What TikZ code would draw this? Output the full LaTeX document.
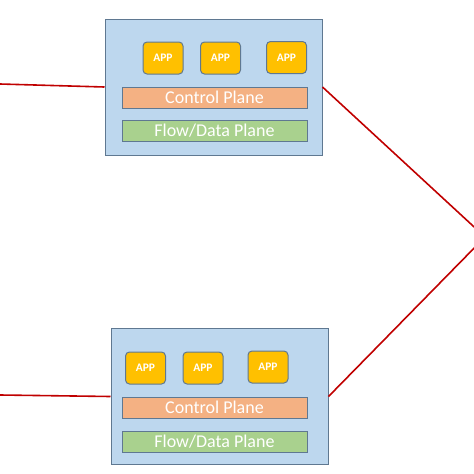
\documentclass[tikz,border=0pt]{standalone}
\usepackage{fontspec}
\setmainfont{Carlito}
\usepackage{xcolor}

\definecolor{fondo}{RGB}{189,215,238}
\definecolor{borde}{RGB}{95,120,145}
\definecolor{naranja}{RGB}{244,177,131}
\definecolor{verde}{RGB}{169,209,142}
\definecolor{amarillo}{RGB}{255,192,0}
\definecolor{rojo}{RGB}{192,0,0}

\tikzset{
  switch/.style={draw=borde, fill=fondo, line width=1pt, minimum width=217pt, minimum height=136pt, inner sep=0pt},
  app/.style={draw=borde, fill=amarillo, rounded corners=4pt, line width=1pt, minimum width=40pt, minimum height=32pt, inner sep=0pt, text=white, font=\fontsize{11.5}{12}\selectfont\bfseries},
  plano/.style={draw=borde, line width=1pt, minimum width=185pt, minimum height=21pt, inner sep=0pt, text=white, font=\fontsize{18}{18}\selectfont},
  enlace/.style={draw=rojo, line width=1.6pt}
}

\begin{document}
\begin{tikzpicture}[x=1pt, y=-1pt]
    \clip (0,0) rectangle (474,474);

    % Nodos
    \node[switch] (S1) at (213.5,87) {};
    \node[app] (A11) at (163,58) {APP};
    \node[app] (A12) at (220.5,58) {APP};
    \node[app] (A13) at (286.5,57.5) {APP};
    \node[plano, fill=naranja] (C1) at (214.5,97.5) {Control Plane};
    \node[plano, fill=verde] (F1) at (214.5,131) {Flow/Data Plane};

    \node[switch] (S2) at (219.5,396.5) {};
    \node[app] (A21) at (145.5,368) {APP};
    \node[app] (A22) at (203,368) {APP};
    \node[app] (A23) at (268,367) {APP};
    \node[plano, fill=naranja] (C2) at (214.5,407.5) {Control Plane};
    \node[plano, fill=verde] (F2) at (214.5,441.5) {Flow/Data Plane};

    \coordinate (izq1) at (0,84);
    \coordinate (izq2) at (0,395);
    \coordinate (der) at (485,237);

    % Aristas
    \draw[enlace] (izq1) -- (S1.west);
    \draw[enlace] (izq2) -- (S2.west);
    \draw[enlace] (S1.east) -- (der);
    \draw[enlace] (S2.east) -- (der);

\end{tikzpicture}
\end{document}
